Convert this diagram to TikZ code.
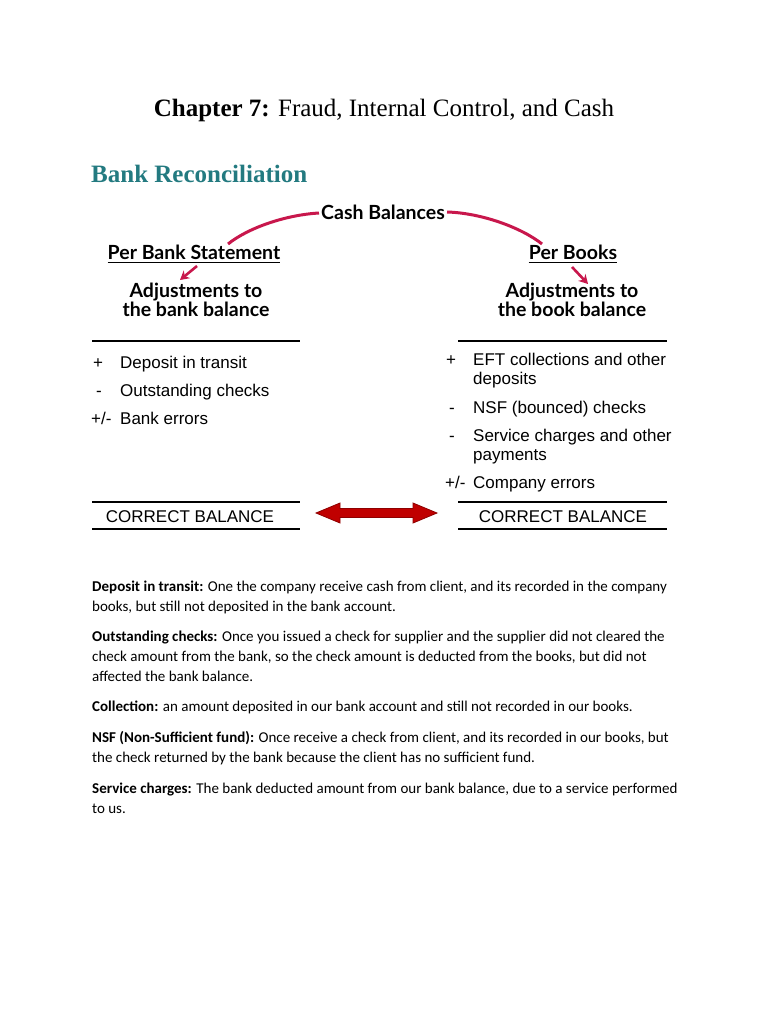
\documentclass[tikz,border=0pt]{standalone}
\usepackage{fontspec}
\setmainfont{Liberation Serif}
\newfontfamily\diagfont{Lato}
\newfontfamily\arialfont{Liberation Sans}
\newfontfamily\calfont{Carlito}
\usetikzlibrary{arrows.meta}
\definecolor{tealhead}{HTML}{237A80}
\definecolor{crim}{HTML}{C8174C}
\definecolor{darr}{HTML}{C00000}
\definecolor{darrline}{HTML}{8E0000}
\begin{document}
\begin{tikzpicture}[x=1pt,y=-1pt,
  hd/.style={font=\diagfont\bfseries\fontsize{19.5}{22}\selectfont, inner sep=0pt, anchor=base},
  itm/.style={font=\arialfont\fontsize{17}{19}\selectfont, anchor=base west, inner sep=0pt},
  cb/.style={font=\arialfont\fontsize{17}{19}\selectfont, anchor=base, inner sep=0pt},
  bd/.style={font=\calfont\fontsize{15}{18}\selectfont, anchor=base west, inner sep=0pt},
  rulel/.style={line width=1.8pt},
  arc/.style={draw=crim, line width=3pt},
  sarr/.style={draw=crim, line width=2.6pt, -{Stealth[length=9pt,width=10pt]}}]
\path[use as bounding box, fill=white] (0,0) rectangle (768,1024);

% titles
\node[anchor=base, inner sep=0pt, font=\fontsize{25}{28}\selectfont] (title) at (384,117) {\textbf{Chapter 7:} Fraud, Internal Control, and Cash};
\node[anchor=base west, inner sep=0pt, font=\bfseries\fontsize{25}{28}\selectfont, text=tealhead] (sub) at (91,183) {Bank Reconciliation};

% diagram headings
\node[hd] (cash) at (383,219) {Cash Balances};
\node[hd] (pbs) at (194,259) {Per Bank Statement};
\node[hd] (pb) at (573,259) {Per Books};
\draw[line width=1.3pt] (pbs.base west) ++(0,3.5) coordinate (u1) -- (u1 -| pbs.east);
\draw[line width=1.3pt] (pb.base west) ++(0,3.5) coordinate (u2) -- (u2 -| pb.east);
\node[hd] (adjb1) at (196,297) {Adjustments to};
\node[hd] (adjb2) at (196,316) {the bank balance};
\node[hd] (adjk1) at (572,297) {Adjustments to};
\node[hd] (adjk2) at (572,316) {the book balance};

% arcs
\coordinate (aL) at (228,244);
\coordinate (aR) at (542,244);
\draw[arc] ([xshift=-2pt]cash.west |- 0,213) .. controls (285,215) and (248,228) .. (aL);
\draw[arc] ([xshift=2pt]cash.east |- 0,212) .. controls (482,213) and (522,228) .. (aR);
\coordinate (sL1) at (197,266); \coordinate (sL2) at (180,280);
\coordinate (sR1) at (572,267); \coordinate (sR2) at (588,284);
\draw[sarr] (sL1) -- (sL2);
\draw[sarr] (sR1) -- (sR2);

% rules
\coordinate (L1a) at (92,341); \coordinate (L1b) at (300,341);
\coordinate (R1a) at (458,341); \coordinate (R1b) at (667,341);
\draw[rulel] (L1a) -- (L1b);
\draw[rulel] (R1a) -- (R1b);
\coordinate (L2a) at (92,502); \coordinate (L2b) at (300,502);
\coordinate (L3a) at (92,529); \coordinate (L3b) at (300,529);
\coordinate (R2a) at (458,502); \coordinate (R2b) at (667,502);
\coordinate (R3a) at (458,529); \coordinate (R3b) at (667,529);
\draw[rulel] (L2a) -- (L2b);
\draw[rulel] (L3a) -- (L3b);
\draw[rulel] (R2a) -- (R2b);
\draw[rulel] (R3a) -- (R3b);

% left items
\node[itm] (ls1) at (93,368) {+};
\node[itm] (lt1) at (120,368) {Deposit in transit};
\node[itm] (ls2) at (96,396) {-};
\node[itm] (lt2) at (120,396) {Outstanding checks};
\node[itm] (ls3) at (91,424) {+/-};
\node[itm] (lt3) at (120,424) {Bank errors};

% right items
\node[itm] (rs1) at (446,365) {+};
\node[itm] (rt1) at (473,365) {EFT collections and other};
\node[itm] (rt1b) at (473,384) {deposits};
\node[itm] (rs2) at (449,413) {-};
\node[itm] (rt2) at (473,413) {NSF (bounced) checks};
\node[itm] (rs3) at (449,441) {-};
\node[itm] (rt3) at (473,441) {Service charges and other};
\node[itm] (rt3b) at (473,460) {payments};
\node[itm] (rs4) at (445,488) {+/-};
\node[itm] (rt4) at (473,488) {Company errors};

\node[cb] (cbl) at (190,522) {CORRECT BALANCE};
\node[cb] (cbr) at (563,522) {CORRECT BALANCE};

% double arrow
\draw[fill=darr, draw=darrline, line width=0.8pt]
  (316,513) -- (340,503) -- (340,508.5) -- (413,508.5) -- (413,503) -- (437,513)
  -- (413,523) -- (413,517.5) -- (340,517.5) -- (340,523) -- cycle;

% body text
\node[bd] (b1) at (92,591) {\textbf{Deposit in transit:} One the company receive cash from client, and its recorded in the company};
\node[bd] (b2) at (92,611) {books, but still not deposited in the bank account.};
\node[bd] (b3) at (92,641) {\textbf{Outstanding checks:} Once you issued a check for supplier and the supplier did not cleared the};
\node[bd] (b4) at (92,661) {check amount from the bank, so the check amount is deducted from the books, but did not};
\node[bd] (b5) at (92,681) {affected the bank balance.};
\node[bd] (b6) at (92,711) {\textbf{Collection:} an amount deposited in our bank account and still not recorded in our books.};
\node[bd] (b7) at (92,742) {\textbf{NSF (Non-Sufficient fund):} Once receive a check from client, and its recorded in our books, but};
\node[bd] (b8) at (92,762) {the check returned by the bank because the client has no sufficient fund.};
\node[bd] (b9) at (92,793) {\textbf{Service charges:} The bank deducted amount from our bank balance, due to a service performed};
\node[bd] (b10) at (92,813) {to us.};
\end{tikzpicture}
\end{document}
